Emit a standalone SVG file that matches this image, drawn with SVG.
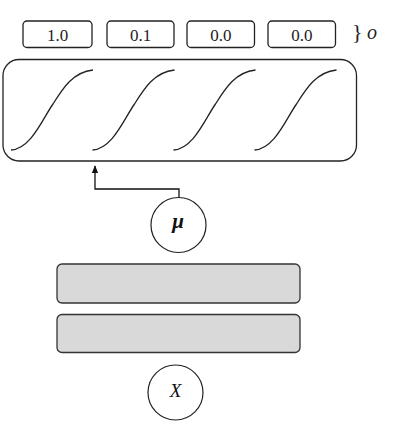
<svg xmlns="http://www.w3.org/2000/svg" width="419" height="439" viewBox="0 0 419 439">
<defs>
<style>
.ob{fill:#fff;stroke:#222;stroke-width:1.3}
.lbl{font-family:"Liberation Serif",serif;font-size:17px;fill:#222;text-anchor:middle}
.sig{fill:none;stroke:#222;stroke-width:1.3}
.circ{fill:#fff;stroke:#222;stroke-width:1.2}
.bar{fill:#d9d9d9;stroke:#333;stroke-width:1.3}
.conn{fill:none;stroke:#111;stroke-width:1.3}
</style>
<marker id="arr" viewBox="0 0 10 10" refX="9" refY="5" markerWidth="6" markerHeight="6" orient="auto">
<path d="M0,1 L10,5 L0,9 z" fill="#111"/>
</marker>
<path id="s" d="M0,80 C20,79 32,48 42,34 C52,18 62,2 82,0"/>
</defs>
<rect width="419" height="439" fill="#fff"/>
<g id="outputs">
<rect class="ob" x="23" y="21" width="69" height="26.5" rx="4"/>
<text class="lbl" x="57.5" y="41">1.0</text>
<rect class="ob" x="107" y="21" width="67" height="26.5" rx="4"/>
<text class="lbl" x="140.5" y="41">0.1</text>
<rect class="ob" x="187" y="21" width="67.5" height="26.5" rx="4"/>
<text class="lbl" x="220.8" y="41">0.0</text>
<rect class="ob" x="268" y="21" width="67.5" height="26.5" rx="4"/>
<text class="lbl" x="301.8" y="41">0.0</text>
<text x="352" y="39" style="font-family:'Liberation Serif',serif;font-size:22px;fill:#222">}</text>
<text x="367" y="38.5" style="font-family:'Liberation Serif',serif;font-size:20px;font-style:italic;fill:#222">o</text>
</g>
<g id="sigmoids">
<rect class="ob" x="3" y="59.5" width="353.5" height="101.5" rx="16"/>
<use href="#s" class="sig" transform="translate(11,70)"/>
<use href="#s" class="sig" transform="translate(92.5,70)"/>
<use href="#s" class="sig" transform="translate(173.5,70)"/>
<use href="#s" class="sig" transform="translate(254.5,70)"/>
</g>
<g id="connectors">
<path class="conn" d="M179,197.5 V189 H95 V166" marker-end="url(#arr)"/>
</g>
<g id="mu">
<circle class="circ" cx="178.5" cy="225" r="27.5"/>
<text x="178" y="228" style="font-family:'Liberation Serif',serif;font-size:21px;font-weight:bold;font-style:italic;fill:#111;text-anchor:middle">μ</text>
</g>
<g id="layer1">
<rect class="bar" x="57" y="264" width="243" height="39" rx="5"/>
</g>
<g id="layer2">
<rect class="bar" x="57" y="314.5" width="243" height="38" rx="5"/>
</g>
<g id="x">
<circle class="circ" cx="175.5" cy="392.5" r="27.5"/>
<text x="175.5" y="397" style="font-family:'Liberation Serif',serif;font-size:19px;font-style:italic;fill:#111;text-anchor:middle">X</text>
</g>
</svg>
